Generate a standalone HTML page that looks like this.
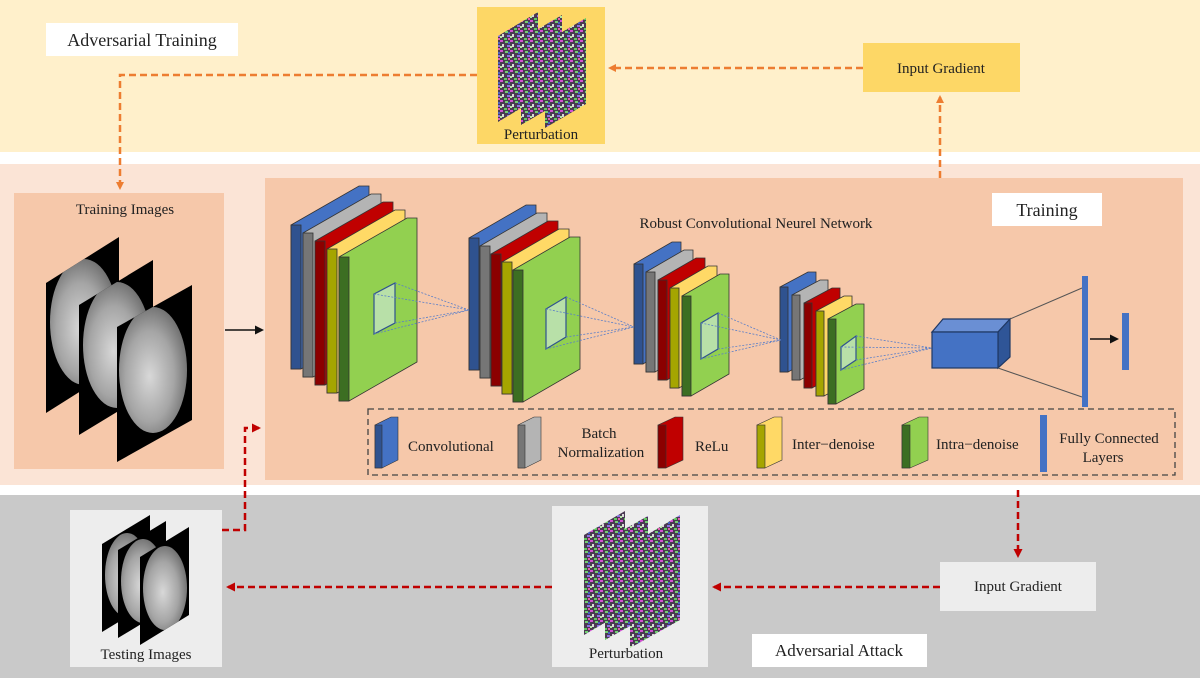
<!DOCTYPE html>
<html><head><meta charset="utf-8"><style>
html,body{margin:0;padding:0;background:#fff;}
svg{display:block;}
text{font-family:"Liberation Serif",serif;fill:#222;}
</style></head><body>
<svg width="1200" height="678" viewBox="0 0 1200 678" xmlns="http://www.w3.org/2000/svg">
<defs>
<pattern id="noise" width="10" height="10" patternUnits="userSpaceOnUse">
<rect width="10" height="10" fill="#4a3a52"/>
<rect x="0" y="0" width="3" height="2" fill="#d050d0"/>
<rect x="5" y="1" width="3" height="2" fill="#70d070"/>
<rect x="2" y="4" width="2" height="3" fill="#d8d8d8"/>
<rect x="7" y="5" width="3" height="2" fill="#8a70e0"/>
<rect x="4" y="8" width="3" height="2" fill="#60c860"/>
<rect x="8" y="8" width="2" height="2" fill="#e060b0"/>
<rect x="0" y="6" width="2" height="2" fill="#b0e8a0"/>
<rect x="8" y="2" width="2" height="2" fill="#4a60c0"/>
</pattern>
<radialGradient id="moon" cx="0.45" cy="0.55" r="0.6">
<stop offset="0" stop-color="#d8d8d8"/><stop offset="0.6" stop-color="#a5a5a5"/><stop offset="1" stop-color="#6a6a6a"/>
</radialGradient>
<clipPath id="c1"><polygon points="46,283 119,237 119,367 46,413"/></clipPath>
<clipPath id="c2"><polygon points="79,305 153,260 153,390 79,435"/></clipPath>
<clipPath id="c3"><polygon points="117,327 192,285 192,420 117,462"/></clipPath>
<clipPath id="t1"><polygon points="102,544 150,515 150,603 102,632"/></clipPath>
<clipPath id="t2"><polygon points="118,550 166,521 166,609 118,638"/></clipPath>
<clipPath id="t3"><polygon points="140,557 189,527 189,615 140,645"/></clipPath>
<marker id="ao" markerWidth="8" markerHeight="8" refX="6" refY="4" orient="auto" markerUnits="userSpaceOnUse"><path d="M0,0 L8,4 L0,8 z" fill="#ed7d31"/></marker>
<marker id="ar" markerWidth="9" markerHeight="9" refX="7" refY="4.5" orient="auto" markerUnits="userSpaceOnUse"><path d="M0,0 L9,4.5 L0,9 z" fill="#c00000"/></marker>
<marker id="ak" markerWidth="9" markerHeight="9" refX="7" refY="4.5" orient="auto" markerUnits="userSpaceOnUse"><path d="M0,0 L9,4.5 L0,9 z" fill="#111"/></marker>
</defs>

<rect x="0" y="0" width="1200" height="152" fill="#fff0cb"/>
<rect x="0" y="164" width="1200" height="321" fill="#fbe4d6"/>
<rect x="0" y="495" width="1200" height="183" fill="#c9c9c9"/>

<rect x="46" y="23" width="192" height="33" fill="#fff"/>
<text x="142" y="46" font-size="18" text-anchor="middle">Adversarial Training</text>
<rect x="477" y="7" width="128" height="137" fill="#fdd766"/>
<polygon points="498,36 538,12 538,98 498,122" fill="url(#noise)"/>
<polygon points="521,39 562,15 562,101 521,125" fill="url(#noise)"/>
<polygon points="545,42 586,18 586,104 545,128" fill="url(#noise)"/>
<text x="541" y="139" font-size="15" text-anchor="middle">Perturbation</text>
<rect x="863" y="43" width="157" height="49" fill="#fdd766"/>
<text x="941" y="73" font-size="15" text-anchor="middle">Input Gradient</text>
<path d="M863,68 L610,68" stroke="#ed7d31" stroke-width="2.5" stroke-dasharray="7,4" fill="none" marker-end="url(#ao)"/>
<path d="M477,75 L120,75 L120,188" stroke="#ed7d31" stroke-width="2.5" stroke-dasharray="7,4" fill="none" marker-end="url(#ao)"/>
<path d="M940,178 L940,97" stroke="#ed7d31" stroke-width="2.5" stroke-dasharray="7,4" fill="none" marker-end="url(#ao)"/>

<rect x="14" y="193" width="210" height="276" fill="#f6c8aa"/>
<text x="125" y="214" font-size="15" text-anchor="middle">Training Images</text>
<polygon points="46,283 119,237 119,367 46,413" fill="#000"/>
<ellipse cx="84" cy="322" rx="34" ry="63" fill="url(#moon)" clip-path="url(#c1)"/>
<polygon points="79,305 153,260 153,390 79,435" fill="#000"/>
<ellipse cx="117" cy="345" rx="34" ry="63" fill="url(#moon)" clip-path="url(#c2)"/>
<polygon points="117,327 192,285 192,420 117,462" fill="#000"/>
<ellipse cx="153" cy="370" rx="34" ry="63" fill="url(#moon)" clip-path="url(#c3)"/>
<path d="M225,330 L262,330" stroke="#111" stroke-width="1.5" marker-end="url(#ak)"/>

<rect x="265" y="178" width="918" height="302" fill="#f6c8aa"/>
<rect x="992" y="193" width="110" height="33" fill="#fff"/>
<text x="1047" y="216" font-size="18" text-anchor="middle">Training</text>
<text x="756" y="228" font-size="15" text-anchor="middle">Robust Convolutional Neurel Network</text>

<g stroke="#333" stroke-width="0.8">
<polygon points="291,225 359,186 369,186 369,330 301,369 291,369" fill="#4472c4"/><rect x="291" y="225" width="10" height="144" fill="#2f528f"/>
<polygon points="303,233 371,194 381,194 381,338 313,377 303,377" fill="#b4b4b4"/><rect x="303" y="233" width="10" height="144" fill="#767676"/>
<polygon points="315,241 383,202 393,202 393,346 325,385 315,385" fill="#c00000"/><rect x="315" y="241" width="10" height="144" fill="#8b0000"/>
<polygon points="327,249 395,210 405,210 405,354 337,393 327,393" fill="#ffd966"/><rect x="327" y="249" width="10" height="144" fill="#a5a500"/>
<polygon points="339,257 407,218 417,218 417,362 349,401 339,401" fill="#92d050"/><rect x="339" y="257" width="10" height="144" fill="#3c6e22"/>
<polygon points="469,238 526,205 536,205 536,337 479,370 469,370" fill="#4472c4"/><rect x="469" y="238" width="10" height="132" fill="#2f528f"/>
<polygon points="480,246 537,213 547,213 547,345 490,378 480,378" fill="#b4b4b4"/><rect x="480" y="246" width="10" height="132" fill="#767676"/>
<polygon points="491,254 548,221 558,221 558,353 501,386 491,386" fill="#c00000"/><rect x="491" y="254" width="10" height="132" fill="#8b0000"/>
<polygon points="502,262 559,229 569,229 569,361 512,394 502,394" fill="#ffd966"/><rect x="502" y="262" width="10" height="132" fill="#a5a500"/>
<polygon points="513,270 570,237 580,237 580,369 523,402 513,402" fill="#92d050"/><rect x="513" y="270" width="10" height="132" fill="#3c6e22"/>
<polygon points="634,264 672,242 681,242 681,342 643,364 634,364" fill="#4472c4"/><rect x="634" y="264" width="9" height="100" fill="#2f528f"/>
<polygon points="646,272 684,250 693,250 693,350 655,372 646,372" fill="#b4b4b4"/><rect x="646" y="272" width="9" height="100" fill="#767676"/>
<polygon points="658,280 696,258 705,258 705,358 667,380 658,380" fill="#c00000"/><rect x="658" y="280" width="9" height="100" fill="#8b0000"/>
<polygon points="670,288 708,266 717,266 717,366 679,388 670,388" fill="#ffd966"/><rect x="670" y="288" width="9" height="100" fill="#a5a500"/>
<polygon points="682,296 720,274 729,274 729,374 691,396 682,396" fill="#92d050"/><rect x="682" y="296" width="9" height="100" fill="#3c6e22"/>
<polygon points="780,287 808,272 816,272 816,357 788,372 780,372" fill="#4472c4"/><rect x="780" y="287" width="8" height="85" fill="#2f528f"/>
<polygon points="792,295 820,280 828,280 828,365 800,380 792,380" fill="#b4b4b4"/><rect x="792" y="295" width="8" height="85" fill="#767676"/>
<polygon points="804,303 832,288 840,288 840,373 812,388 804,388" fill="#c00000"/><rect x="804" y="303" width="8" height="85" fill="#8b0000"/>
<polygon points="816,311 844,296 852,296 852,381 824,396 816,396" fill="#ffd966"/><rect x="816" y="311" width="8" height="85" fill="#a5a500"/>
<polygon points="828,319 856,304 864,304 864,389 836,404 828,404" fill="#92d050"/><rect x="828" y="319" width="8" height="85" fill="#3c6e22"/>
</g>

<g fill="#b8e0a8" stroke="#2f528f" stroke-width="1.2">
<polygon points="374,294 395,283 395,323 374,334"/>
<polygon points="546,309 566,297 566,337 546,349"/>
<polygon points="701,323 718,313 718,349 701,359"/>
<polygon points="841,347 856,336 856,360 841,370"/>
</g>
<g stroke="#5a7ec8" stroke-width="0.8" stroke-dasharray="2,1.5" fill="none">
<path d="M374,294 L469,310 M395,283 L469,310 M395,323 L469,310 M374,334 L469,310"/>
<path d="M546,309 L634,327 M566,297 L634,327 M566,337 L634,327 M546,349 L634,327"/>
<path d="M701,323 L781,340 M718,313 L781,340 M718,349 L781,340 M701,359 L781,340"/>
<path d="M841,347 L932,348 M856,336 L932,348 M856,360 L932,348 M841,370 L932,348"/>
</g>

<g stroke="#1f3864" stroke-width="1.2">
<polygon points="932,332 943,319 1010,319 998,332" fill="#6a8fd4"/>
<polygon points="998,332 1010,319 1010,357 998,368" fill="#2f5597"/>
<rect x="932" y="332" width="66" height="36" fill="#4472c4"/>
</g>
<path d="M1010,319 L1082,288 M998,368 L1082,397" stroke="#555" stroke-width="1"/>
<rect x="1082" y="276" width="6" height="131" fill="#4472c4"/>
<path d="M1090,339 L1117,339" stroke="#111" stroke-width="1.5" marker-end="url(#ak)"/>
<rect x="1122" y="313" width="7" height="57" fill="#4472c4"/>

<rect x="368" y="409" width="807" height="66" fill="none" stroke="#444" stroke-width="1.3" stroke-dasharray="6,4"/>
<g stroke="#333" stroke-width="0.6">
<polygon points="375,425 391,417 398,417 398,460 382,468 375,468" fill="#4472c4"/><rect x="375" y="425" width="7" height="43" fill="#2f528f"/>
<polygon points="518,425 534,417 541,417 541,460 525,468 518,468" fill="#b4b4b4"/><rect x="518" y="425" width="7" height="43" fill="#767676"/>
<polygon points="658,425 675,417 683,417 683,460 666,468 658,468" fill="#c00000"/><rect x="658" y="425" width="8" height="43" fill="#8b0000"/>
<polygon points="757,425 774,417 782,417 782,460 765,468 757,468" fill="#ffd966"/><rect x="757" y="425" width="8" height="43" fill="#a5a500"/>
<polygon points="902,425 919,417 928,417 928,460 910,468 902,468" fill="#92d050"/><rect x="902" y="425" width="8" height="43" fill="#3c6e22"/>
</g>
<rect x="1040" y="415" width="7" height="57" fill="#4472c4"/>
<g font-size="15">
<text x="408" y="451">Convolutional</text>
<text x="599" y="438" text-anchor="middle">Batch</text>
<text x="601" y="457" text-anchor="middle">Normalization</text>
<text x="695" y="451">ReLu</text>
<text x="792" y="449">Inter−denoise</text>
<text x="936" y="449">Intra−denoise</text>
<text x="1109" y="443" text-anchor="middle">Fully Connected</text>
<text x="1103" y="462" text-anchor="middle">Layers</text>
</g>

<rect x="70" y="510" width="152" height="157" fill="#ededed"/>
<polygon points="102,544 150,515 150,603 102,632" fill="#000"/>
<ellipse cx="127" cy="575" rx="22" ry="42" fill="url(#moon)" clip-path="url(#t1)"/>
<polygon points="118,550 166,521 166,609 118,638" fill="#000"/>
<ellipse cx="143" cy="581" rx="22" ry="42" fill="url(#moon)" clip-path="url(#t2)"/>
<polygon points="140,557 189,527 189,615 140,645" fill="#000"/>
<ellipse cx="165" cy="588" rx="22" ry="42" fill="url(#moon)" clip-path="url(#t3)"/>
<text x="146" y="659" font-size="15" text-anchor="middle">Testing Images</text>

<rect x="552" y="506" width="156" height="161" fill="#ededed"/>
<polygon points="584,535 625,511 625,611 584,635" fill="url(#noise)"/>
<polygon points="605,540 648,516 648,616 605,640" fill="url(#noise)"/>
<polygon points="630,545 680,515 680,620 630,648" fill="url(#noise)"/>
<text x="626" y="658" font-size="15" text-anchor="middle">Perturbation</text>

<rect x="940" y="562" width="156" height="49" fill="#ededed"/>
<text x="1018" y="591" font-size="15" text-anchor="middle">Input Gradient</text>
<rect x="752" y="634" width="175" height="33" fill="#fff"/>
<text x="839" y="656" font-size="17" text-anchor="middle">Adversarial Attack</text>

<g stroke="#c00000" stroke-width="2.5" stroke-dasharray="7,4" fill="none">
<path d="M1018,490 L1018,556" marker-end="url(#ar)"/>
<path d="M940,587 L714,587" marker-end="url(#ar)"/>
<path d="M552,587 L228,587" marker-end="url(#ar)"/>
<path d="M222,530 L245,530 L245,428 L259,428" marker-end="url(#ar)"/>
</g>
</svg>
</body></html>
